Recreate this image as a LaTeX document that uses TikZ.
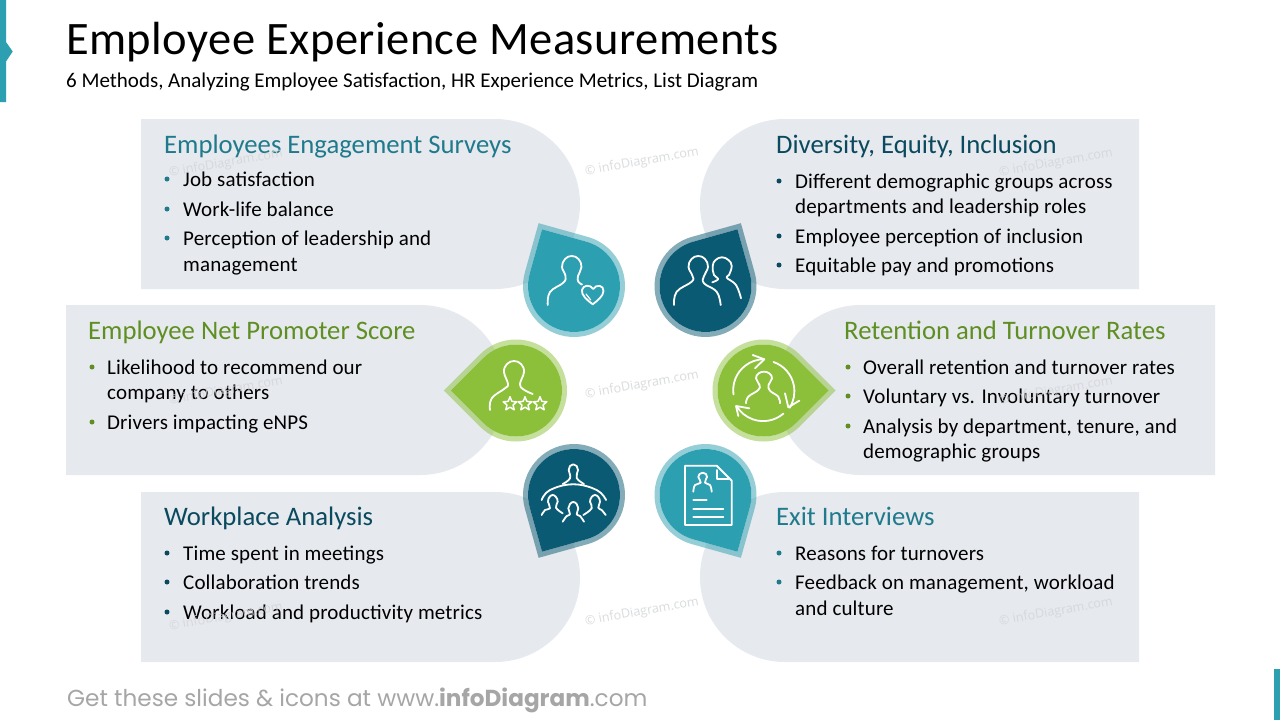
\documentclass[tikz,border=0pt]{standalone}
\usepackage{fontspec}
\setmainfont{Carlito}
\newfontfamily\footfont{Poppins}
\newfontfamily\wmfont{Open Sans}
\definecolor{panelc}{HTML}{E6E9EE}
\definecolor{tealc}{HTML}{2C9FB0}
\definecolor{darkc}{HTML}{0B5A73}
\definecolor{greenc}{HTML}{8CC03A}
\definecolor{headteal}{HTML}{1F7A8C}
\definecolor{headdark}{HTML}{0B4A5E}
\definecolor{headgreen}{HTML}{5F8F22}
\definecolor{wmc}{HTML}{D3D5D8}
\definecolor{footc}{HTML}{A6A6A6}
\tikzset{
  x=1pt,y=-1pt,
  panel/.style={fill=panelc,draw=none},
  iconline/.style={draw=white,line width=1.8pt,line cap=round,line join=round,fill=none},
  headtxt/.style={anchor=base west,inner sep=0pt,font=\fontsize{26.7}{30}\selectfont},
  bodytxt/.style={anchor=base west,inner sep=0pt,font=\fontsize{21}{24}\selectfont\addfontfeature{LetterSpace=.7},text=black},
  bulletdot/.style={circle,inner sep=0pt,minimum size=5pt},
  wmark/.style={inner sep=0pt,rotate=10,text=wmc,opacity=.85,font=\wmfont\fontsize{12.6}{14}\selectfont},
}
\newcommand{\droppath}[4]{% cx cy angle r
  ([shift={(#1,#2)}]#3+45:#4) arc[start angle=#3+45,end angle=#3+315,radius=#4]
  -- ([shift={(#1,#2)}]#3:{#4*1.41421}) -- cycle}
\newcommand{\dropshape}[4]{% cx cy angle colour
  \fill[#4] \droppath{#1}{#2}{#3}{46};
  \draw[#4,opacity=.5,line width=5pt,line join=miter,miter limit=3] \droppath{#1}{#2}{#3}{48.5};}
\newcommand{\traced}[1]{\draw[iconline] plot[smooth,tension=.7] coordinates {#1};}
\newcommand{\starline}[2]{%
  \draw[iconline,line width=1.5pt] ([shift={(#1,#2)}]270:7.2) -- ([shift={(#1,#2)}]306:3.2) -- ([shift={(#1,#2)}]342:7.2)
  -- ([shift={(#1,#2)}]18:3.2) -- ([shift={(#1,#2)}]54:7.2) -- ([shift={(#1,#2)}]90:3.2) -- ([shift={(#1,#2)}]126:7.2)
  -- ([shift={(#1,#2)}]162:3.2) -- ([shift={(#1,#2)}]198:7.2) -- ([shift={(#1,#2)}]234:3.2) -- cycle;}
\begin{document}
\begin{tikzpicture}
\useasboundingbox (0,0) rectangle (1280,720);
\fill[white] (0,0) rectangle (1280,720);

% side marks
\fill[tealc] (0,0) -- (6,0) -- (6,42) -- (12.7,51.5) -- (6,61.5) -- (6,102) -- (0,102) -- cycle;
\fill[tealc] (1274,669) rectangle (1280,720);

% panels
\fill[panel] (141,119) -- (495,119) arc[start angle=270,end angle=450,radius=85] -- (141,289) -- cycle;
\fill[panel] (1139,119) -- (785,119) arc[start angle=270,end angle=90,radius=85] -- (1139,289) -- cycle;
\fill[panel] (66,305) -- (420,305) arc[start angle=270,end angle=450,radius=85] -- (66,475) -- cycle;
\fill[panel] (1215,305) -- (861,305) arc[start angle=270,end angle=90,radius=85] -- (1215,475) -- cycle;
\fill[panel] (141,492) -- (495,492) arc[start angle=270,end angle=450,radius=85] -- (141,662) -- cycle;
\fill[panel] (1139,492) -- (785,492) arc[start angle=270,end angle=90,radius=85] -- (1139,662) -- cycle;

% title
\node[anchor=base west,inner sep=0pt,font=\fontsize{46.5}{50}\selectfont\addfontfeature{LetterSpace=1}] (title) at (66,54) {Employee Experience Measurements};
\node[anchor=base west,inner sep=0pt,font=\fontsize{21}{24}\selectfont] (subtitle) at (66,87) {6 Methods, Analyzing Employee Satisfaction, HR Experience Metrics, List Diagram};

% top left
\node[headtxt,text=headteal] (h1) at (164,153) {Employees Engagement Surveys};
\node[bulletdot,fill=headteal] (b11) at (167,179) {};
\node[bodytxt] (t11) at (183,186) {Job satisfaction};
\node[bulletdot,fill=headteal] (b12) at (167,209) {};
\node[bodytxt] (t12) at (183,216) {Work-life balance};
\node[bulletdot,fill=headteal] (b13) at (167,238) {};
\node[bodytxt] (t13) at (183,245) {Perception of leadership and};
\node[bodytxt] (t14) at (183,271) {management};

% top right
\node[headtxt,text=headdark] (h2) at (776,153) {Diversity, Equity, Inclusion};
\node[bulletdot,fill=headdark] (b21) at (779,181) {};
\node[bodytxt] (t21) at (795,188) {Different demographic groups across};
\node[bodytxt] (t22) at (795,213) {departments and leadership roles};
\node[bulletdot,fill=headdark] (b23) at (779,236) {};
\node[bodytxt] (t23) at (795,243) {Employee perception of inclusion};
\node[bulletdot,fill=headdark] (b24) at (779,265) {};
\node[bodytxt] (t24) at (795,272) {Equitable pay and promotions};

% middle left
\node[headtxt,text=headgreen] (h3) at (88,339) {Employee Net Promoter Score};
\node[bulletdot,fill=headgreen] (b31) at (92,367) {};
\node[bodytxt] (t31) at (107,374) {Likelihood to recommend our};
\node[bodytxt] (t32) at (107,399) {company to others};
\node[bulletdot,fill=headgreen] (b33) at (92,422) {};
\node[bodytxt] (t33) at (107,429) {Drivers impacting eNPS};

% middle right
\node[headtxt,text=headgreen] (h4) at (844,339) {Retention and Turnover Rates};
\node[bulletdot,fill=headgreen] (b41) at (848,367) {};
\node[bodytxt] (t41) at (863,374) {Overall retention and turnover rates};
\node[bulletdot,fill=headgreen] (b42) at (848,396) {};
\node[bodytxt] (t42) at (863,403) {Voluntary vs. Involuntary turnover};
\node[bulletdot,fill=headgreen] (b43) at (848,426) {};
\node[bodytxt] (t43) at (863,433) {Analysis by department, tenure, and};
\node[bodytxt] (t44) at (863,458) {demographic groups};

% bottom left
\node[headtxt,text=headdark] (h5) at (164,525) {Workplace Analysis};
\node[bulletdot,fill=headdark] (b51) at (167,553) {};
\node[bodytxt] (t51) at (183,560) {Time spent in meetings};
\node[bulletdot,fill=headdark] (b52) at (167,582) {};
\node[bodytxt] (t52) at (183,589) {Collaboration trends};
\node[bulletdot,fill=headdark] (b53) at (167,612) {};
\node[bodytxt] (t53) at (183,619) {Workload and productivity metrics};

% bottom right
\node[headtxt,text=headteal] (h6) at (776,525) {Exit Interviews};
\node[bulletdot,fill=headteal] (b61) at (779,553) {};
\node[bodytxt] (t61) at (795,560) {Reasons for turnovers};
\node[bulletdot,fill=headteal] (b62) at (779,582) {};
\node[bodytxt] (t62) at (795,589) {Feedback on management, workload};
\node[bodytxt] (t63) at (795,615) {and culture};

% watermarks
\node[wmark] (w1) at (642,162) {© infoDiagram.com};
\node[wmark] (w2) at (642,385) {© infoDiagram.com};
\node[wmark] (w3) at (642,612) {© infoDiagram.com};
\node[wmark] (w4) at (226,163.5) {© infoDiagram.com};
\node[wmark] (w5) at (226,391) {© infoDiagram.com};
\node[wmark] (w6) at (226,617) {© infoDiagram.com};
\node[wmark] (w7) at (1056,163) {© infoDiagram.com};
\node[wmark] (w8) at (1056,391) {© infoDiagram.com};
\node[wmark] (w9) at (1056,612) {© infoDiagram.com};

% drops
\dropshape{574}{286}{240.6}{tealc}
\dropshape{705.5}{286}{299.4}{darkc}
\dropshape{516}{390.5}{180}{greenc}
\dropshape{763.5}{390.5}{0}{greenc}
\dropshape{574}{495}{119.4}{darkc}
\dropshape{705.5}{495}{60.6}{tealc}

% icon: person with heart
\traced{(547.7,305) (550,292) (563.3,282.7) (565.5,276) (562,267) (565,259) (571.7,256) (578.5,259) (581.5,267) (578,276) (578.3,281.7) (582,284.5)}
\draw[iconline] (592.7,304.3) .. controls (587,300) and (581,295) .. (582,290) .. controls (583,285) and (590,284) .. (593.3,289) .. controls (596,284) and (604,285) .. (603.5,291) .. controls (603.5,296) and (597,301) .. (592.7,304.3) -- cycle;
\draw[iconline,line width=1.2pt] (586,294) -- (590.7,300);

% icon: two people
\traced{(674,305) (676.7,291.7) (691.7,281.7) (692.5,276) (688.5,267) (691.5,259) (698.3,256) (705,259) (708,267) (704,276) (704,283.3) (716.7,291.7) (720.7,305)}
\traced{(712.3,282.3) (718.3,279) (714,275) (712.7,266) (715.5,260) (722,257.3) (728.5,260) (731.7,266) (729,275) (726.7,277.7) (736,285) (741,298.3)}

% icon: person with stars
\traced{(490,410) (491.7,398.3) (505,388.3) (508,384) (504,372) (507,364) (514,361) (521,364) (524,372) (520,384) (523.3,389.3) (532.7,394)}
\starline{510}{404}
\starline{525}{404}
\starline{540}{404}

% icon: cycle
\draw[iconline] (733.5,394.5) arc[start angle=172,end angle=270,radius=31];
\draw[iconline] (773.5,362) arc[start angle=289,end angle=392,radius=31];
\draw[iconline] (783.5,413.5) arc[start angle=49,end angle=149,radius=31];
\draw[iconline] (752.7,355) -- (764.3,359.3) -- (755,368.3);
\draw[iconline] (785,393.3) -- (788.3,407.3) -- (799.3,400.7);
\draw[iconline] (749.3,408.3) -- (736,406) -- (738.3,416);
\traced{(746,403.3) (748.3,396.7) (758.3,390) (759.5,385) (756,378.5) (758.5,373.5) (764,371.7) (769.5,373.5) (772,378.5) (768.5,385) (770,390.7) (778.3,396.7) (780,403.3)}

% icon: meeting
\traced{(562.7,484) (570,478.3) (568.7,470) (570,466) (573.3,464.3) (576.7,466) (578,470) (576.7,478) (584,484)}
\traced{(541.7,500) (550,490) (573.3,484.3) (596.7,490) (606,500)}
\traced{(541.7,515) (545,510) (550,508.3) (548,501.7) (549.5,497) (552.7,495) (556,497) (557.7,501.7) (556,507.7) (562.7,513.3)}
\traced{(562.7,521.7) (566.7,516) (570,514.3) (568.3,508.3) (570,504) (573.3,502) (576.7,504) (578.3,508.3) (576.7,514.3) (580,516) (584,521.7)}
\traced{(583.3,515) (591.7,508.3) (590,501.7) (591.7,497) (595,495) (598.3,497) (600,501.7) (598.3,507.7) (601.7,510) (605.7,515)}

% icon: document
\draw[iconline] (685,465.7) -- (716.7,465.7) -- (731.7,480.7) -- (731.7,525) -- (685,525) -- cycle;
\draw[iconline] (716.7,470) -- (716.7,479.3) -- (728.3,479.3);
\traced{(693.3,491.7) (695,485) (700.7,482.7) (698.3,477) (699.5,474) (702.7,472.7) (706,474) (707,477) (705,482.7) (710,485) (711.7,491.7)}
\draw[iconline] (693.3,500) -- (706.7,500);
\draw[iconline] (693.3,509) -- (723.3,509);
\draw[iconline] (693.3,517.3) -- (723.3,517.3);

% footer
\node[anchor=base west,inner sep=0pt,text=footc,font=\footfont\fontsize{23.15}{28}\selectfont] (foot) at (67,706) {Get these slides \& icons at www.\textbf{infoDiagram}.com};
\end{tikzpicture}
\end{document}
